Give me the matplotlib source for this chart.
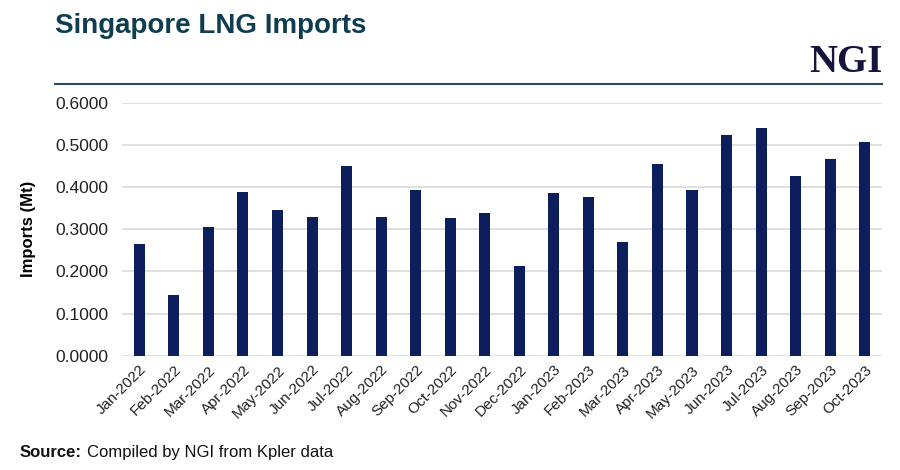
import matplotlib
matplotlib.use("Agg")
from matplotlib import pyplot as plt

months = ["Jan-2022", "Feb-2022", "Mar-2022", "Apr-2022", "May-2022", "Jun-2022",
          "Jul-2022", "Aug-2022", "Sep-2022", "Oct-2022", "Nov-2022", "Dec-2022",
          "Jan-2023", "Feb-2023", "Mar-2023", "Apr-2023", "May-2023", "Jun-2023",
          "Jul-2023", "Aug-2023", "Sep-2023", "Oct-2023"]
imports = [0.264, 0.144, 0.306, 0.388, 0.346, 0.329, 0.451, 0.330, 0.392, 0.327,
           0.338, 0.213, 0.385, 0.376, 0.270, 0.454, 0.393, 0.524, 0.540, 0.425,
           0.466, 0.506]
yticks = [0.0, 0.1, 0.2, 0.3, 0.4, 0.5, 0.6]

plt.rcParams['font.family'] = ['Liberation Sans', 'DejaVu Sans']

fig = plt.figure(figsize=(9, 4.7), dpi=100)
ax = fig.add_axes([0.1356, 0.2432, 0.8444, 0.5383])

x = list(range(len(months)))
ax.bar(x, imports, width=0.32, color="#0c1f5c", zorder=3)

ax.set_xlim(-0.5, len(months) - 0.5)
ax.set_ylim(0, 0.6)
ax.set_yticks(yticks)
ax.set_yticklabels(["{:.4f}".format(v) for v in yticks], fontsize=12.5, color="#222222")
ax.set_xticks(x)
ax.set_xticklabels(months, rotation=45, ha="right", rotation_mode="anchor",
                   fontsize=11, color="#222222")
ax.tick_params(axis="y", length=0, pad=10)
ax.tick_params(axis="x", length=0, pad=5)
ax.grid(axis="y", color="#d9d9d9", linewidth=1.2, zorder=0)
for s in ax.spines.values():
    s.set_visible(False)
ax.set_ylabel("Imports (Mt)", fontsize=12, fontweight="bold", labelpad=14)

# header
fig.text(0.061, 0.945, "Singapore LNG Imports", fontsize=20, fontweight="bold",
         color="#0d3d4f", va="center", ha="left")
fig.text(0.98, 0.868, "NGI", fontsize=28, fontweight="bold", color="#14143c",
         family=["Liberation Serif", "DejaVu Serif"], va="center", ha="right")
fig.add_artist(plt.Line2D([0.061, 0.98], [0.821, 0.821], color="#2c4a5c", linewidth=1.5))

# source
fig.text(0.022, 0.038, "Source:", fontsize=12, fontweight="bold", color="#111111", va="center")
fig.text(0.097, 0.038, "Compiled by NGI from Kpler data", fontsize=12, color="#111111", va="center")

fig.savefig("out.png", dpi=100)
